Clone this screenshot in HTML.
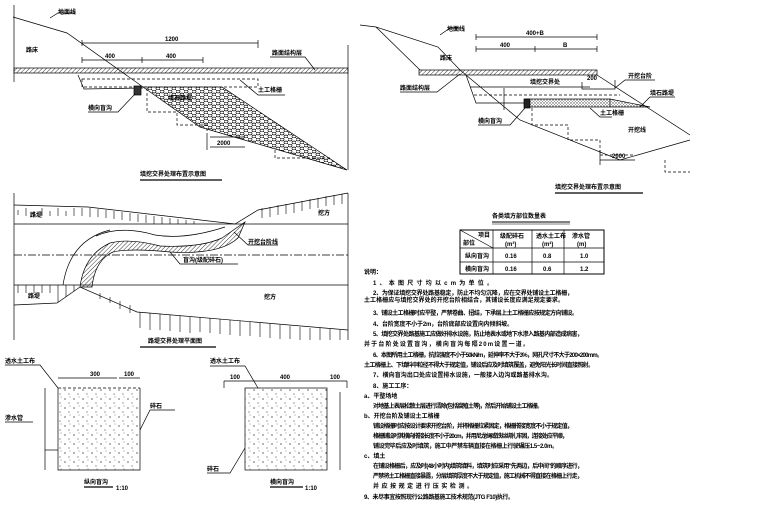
<!DOCTYPE html>
<html><head><meta charset="utf-8"><style>
html,body{margin:0;padding:0;background:#fff;}
svg{display:block;}
text{font-family:"Liberation Sans","Noto Sans CJK SC",sans-serif;fill:#000;}
.t{font-size:6px;font-weight:bold;}
.n{font-size:6px;}
</style></head><body>
<svg width="760" height="515" viewBox="0 0 760 515" xmlns="http://www.w3.org/2000/svg">
<defs>
<pattern id="h" width="3" height="3" patternUnits="userSpaceOnUse" patternTransform="rotate(45)"><line x1="0" y1="0" x2="0" y2="3" stroke="#000" stroke-width="0.8"/></pattern>
<pattern id="d" width="9" height="9" patternUnits="userSpaceOnUse"><circle cx="2" cy="3" r="0.6"/><circle cx="6" cy="7" r="0.5"/><circle cx="7" cy="1" r="0.4"/></pattern>
<pattern id="r" width="8" height="6" patternUnits="userSpaceOnUse"><rect width="8" height="6" fill="#fff"/><ellipse cx="2" cy="1.5" rx="2" ry="1.4" fill="none" stroke="#000" stroke-width="0.7"/><ellipse cx="6" cy="4.5" rx="2" ry="1.4" fill="none" stroke="#000" stroke-width="0.7"/></pattern>
<pattern id="g" width="3" height="3" patternUnits="userSpaceOnUse"><rect width="3" height="3" fill="#fff"/><circle cx="1" cy="1" r="0.7" fill="#444"/><circle cx="2.5" cy="2.4" r="0.5" fill="#666"/></pattern>
</defs>
<g stroke="#000" stroke-width="0.7" fill="none">
<line x1="14" y1="5" x2="14" y2="82"/><line x1="348" y1="45" x2="348" y2="170"/>
<polyline points="13,17 67,33 143,87"/>
<polyline points="50,18 58,13 75,13"/>
<line x1="82" y1="43" x2="258" y2="43"/><line x1="82" y1="40" x2="82" y2="46"/><line x1="258" y1="40" x2="258" y2="48"/>
<line x1="82" y1="60" x2="203" y2="60"/><line x1="82" y1="57" x2="82" y2="63"/><line x1="142" y1="57" x2="142" y2="63"/><line x1="203" y1="57" x2="203" y2="63"/>
<rect x="14" y="68" width="334" height="5" fill="url(#h)"/>
<polyline points="270,57 305,57 315,70"/>
<polyline points="78,75 84,89 143,88"/>
<rect x="82" y="79" width="176" height="8" stroke-dasharray="3,2"/>
<polygon points="143,87 222,87 347,170 200,127" fill="url(#r)"/>
<rect x="134" y="86" width="7" height="9" fill="#333"/>
<polyline points="88,112 118,112 135,94"/>
<polyline points="147,88 147,112 177,112 177,125 207,125 207,135" stroke-dasharray="3,2"/>
<polyline points="275,150 275,158 330,158" stroke-dasharray="3,2"/>
<polyline points="240,80 258,95 285,95"/>
<line x1="210" y1="137" x2="245" y2="137"/><line x1="210" y1="147" x2="245" y2="147"/><line x1="207" y1="135" x2="207" y2="150"/>
<line x1="140" y1="180" x2="222" y2="180" stroke-width="1.2"/>
<line x1="14" y1="193" x2="14" y2="340"/><line x1="348" y1="193" x2="348" y2="340"/>
<polyline points="14,205 88,207 235,224 258,210 348,193"/>
<line x1="14" y1="224" x2="348" y2="224"/>
<line x1="14" y1="255" x2="348" y2="255" stroke-dasharray="8,2,2,2"/>
<line x1="14" y1="285" x2="348" y2="285"/>
<polyline points="14,305 57,303 80,287 137,312 348,330"/>
<path d="M96,236 Q120,225 155,235 Q185,240 225,227" />
<path d="M63,285 Q70,240 110,230" />
<path d="M80,287 Q84,255 110,243 Q130,238 160,246 Q200,248 222,238 L245,222 L238,238 Q220,255 170,252 Q130,248 113,252 Q95,260 92,287 Z" fill="url(#h)"/>
<polyline points="170,252 180,264 238,264"/>
<polyline points="234,232 248,245 278,245"/>
<line x1="140" y1="347" x2="216" y2="347" stroke-width="1.2"/>
</g>
<g stroke="#000" stroke-width="0.6">
<path d="M18,215v-5M26,216v-8M34,216v-5M42,216v-8M50,216v-5M58,216v-8M66,216v-5M74,216v-8M82,216v-8M90,217v-9M98,217v-8M106,218v-8M114,219v-8M122,220v-8M130,221v-8M138,222v-8M146,223v-8M154,224v-8M162,224v-7M170,224v-6M178,224v-5M186,224v-4M194,224v-3M262,208v10M270,207v10M278,205v10M286,204v10M294,203v10M302,201v10M310,199v10M318,198v10M326,196v10M334,195v10M342,194v10"/>
<path d="M18,285v8M26,285v8M34,285v8M42,285v8M50,285v8M58,285v17M66,285v12M74,285v6M100,293v6M110,297v6M120,301v8M130,305v8M140,312v16M150,313v17M160,314v16M170,315v16M180,316v16M190,317v16M200,317v15M210,318v15M220,319v15M230,320v15M240,321v15M250,322v14M260,323v14M270,324v14M280,325v14M290,326v13M300,327v13M310,328v12M320,328v12M330,329v11M340,330v10"/>
</g>
<g stroke="#000" stroke-width="0.7" fill="none">
<rect x="58" y="388" width="82" height="82" fill="url(#d)" stroke="none"/>
<line x1="58" y1="388" x2="140" y2="388" stroke-dasharray="3,2"/>
<polyline points="58,388 58,470 140,470 140,388"/>
<line x1="45" y1="388" x2="45" y2="470"/><line x1="45" y1="450" x2="58" y2="450"/>
<line x1="58" y1="378" x2="117" y2="378"/><line x1="119" y1="378" x2="140" y2="378"/>
<polyline points="5,365 40,365 58,388"/>
<polyline points="175,410 150,410 140,430"/>
<line x1="5" y1="422" x2="33" y2="422"/>
<line x1="84" y1="487" x2="113" y2="487" stroke-width="1.2"/>
<rect x="245" y="388" width="82" height="82" fill="url(#d)"/>
<line x1="224" y1="381" x2="347" y2="381"/>
<line x1="224" y1="381" x2="224" y2="388"/><line x1="347" y1="381" x2="347" y2="388"/>
<line x1="340" y1="392" x2="340" y2="470"/>
<polyline points="210,366 245,366 258,388"/>
<polyline points="207,473 230,473 245,448"/>
<line x1="270" y1="487" x2="303" y2="487" stroke-width="1.2"/>
</g>
<g stroke="#000" stroke-width="0.7" fill="none">
<polyline points="360,25 376,27 438,47 460,70 520,120 620,160 690,140"/>
<polyline points="376,27 420,70"/>
<polyline points="597,75 690,135"/>
<polyline points="440,35 450,28 460,28"/>
<line x1="476" y1="37" x2="597" y2="37"/><line x1="476" y1="34" x2="476" y2="40"/><line x1="597" y1="34" x2="597" y2="40"/>
<line x1="476" y1="49" x2="597" y2="49"/><line x1="476" y1="46" x2="476" y2="52"/><line x1="535" y1="46" x2="535" y2="52"/><line x1="597" y1="46" x2="597" y2="52"/>
<rect x="419" y="70" width="178" height="5" fill="url(#h)"/>
<polyline points="400,92 437,92 460,74"/>
<polyline points="466,75 476,103 525,103"/>
<line x1="470" y1="87" x2="590" y2="87"/>
<line x1="474" y1="95" x2="620" y2="95" stroke-dasharray="3,2"/>
<rect x="525" y="99" width="85" height="8" fill="url(#g)"/>
<polygon points="610,99 650,107 610,107" fill="url(#g)"/>
<rect x="524" y="99" width="6" height="9" fill="#222"/>
<line x1="504" y1="88" x2="504" y2="110"/>
<polyline points="478,125 510,125 525,108"/>
<polyline points="532,108 532,125 568,125 568,140 600,140 600,155 635,155" stroke-dasharray="3,2"/>
<polyline points="665,160 665,172 690,172" stroke-dasharray="3,2"/>
<polyline points="582,82 582,89 615,89 615,80"/>
<polyline points="615,88 625,80 655,80"/>
<polyline points="640,107 650,97 675,97"/>
<polyline points="590,108 600,117 612,117"/>
<line x1="600" y1="160" x2="635" y2="160"/><line x1="600" y1="150" x2="600" y2="165"/>
<line x1="555" y1="193" x2="643" y2="193" stroke-width="1.2"/>
<line x1="492" y1="222" x2="570" y2="222" stroke-width="1"/>
<line x1="492" y1="224" x2="570" y2="224" stroke-width="0.5"/>
<rect x="460" y="230" width="144" height="44" stroke-width="1"/>
<line x1="460" y1="248" x2="604" y2="248"/><line x1="460" y1="262" x2="604" y2="262"/>
<line x1="493" y1="230" x2="493" y2="274"/><line x1="532" y1="230" x2="532" y2="274"/><line x1="564" y1="230" x2="564" y2="274"/>
<line x1="460" y1="230" x2="493" y2="248"/>
</g>
<g class="t">
<text x="58" y="14">地面线</text>
<text x="165" y="41" class="n">1200</text>
<text x="105" y="58" class="n">400</text><text x="166" y="58" class="n">400</text>
<text x="26" y="52">路床</text>
<text x="272" y="55">路面结构层</text>
<text x="168" y="100">填石路堤</text>
<text x="258" y="92">土工格栅</text>
<text x="88" y="110">横向盲沟</text>
<text x="217" y="145" class="n">2000</text>
<text x="140" y="176">填挖交界处理布置示意图</text>
<text x="30" y="217">路堤</text><text x="318" y="215">挖方</text>
<text x="248" y="244">开挖台阶线</text>
<text x="183" y="262">盲沟(级配碎石)</text>
<text x="28" y="298">路堤</text><text x="264" y="299">挖方</text>
<text x="148" y="343">路堤交界处理平面图</text>
<text x="5" y="363">透水土工布</text>
<text x="90" y="376" class="n">300</text><text x="124" y="376" class="n">100</text>
<text x="150" y="408">碎石</text>
<text x="5" y="420">渗水管</text>
<text x="84" y="484">纵向盲沟</text><text x="116" y="490" class="n">1:10</text>
<text x="210" y="363">透水土工布</text>
<text x="230" y="379" class="n">100</text><text x="280" y="379" class="n">400</text><text x="330" y="379" class="n">100</text>
<text x="207" y="471">碎石</text>
<text x="270" y="484">横向盲沟</text><text x="305" y="490" class="n">1:10</text>
<text x="447" y="31">地面线</text>
<text x="526" y="35" class="n">400+B</text>
<text x="500" y="47" class="n">400</text><text x="563" y="47" class="n">B</text>
<text x="440" y="60">路床</text>
<text x="400" y="90">路面结构层</text>
<text x="530" y="84">填挖交界处</text>
<text x="587" y="80" class="n">200</text>
<text x="628" y="78">开挖台阶</text>
<text x="650" y="95">填石路堤</text>
<text x="600" y="115">土工格栅</text>
<text x="478" y="123">横向盲沟</text>
<text x="628" y="132">开挖线</text>
<text x="612" y="158" class="n">2000</text>
<text x="555" y="189">填挖交界处理布置示意图</text>
<text x="492" y="218">各类填方部位数量表</text>
<text x="478" y="237">项目</text><text x="463" y="245">部位</text>
<text x="500" y="238">级配碎石</text><text x="505" y="246">(m³)</text>
<text x="536" y="238">透水土工布</text><text x="542" y="246">(m²)</text>
<text x="572" y="238">渗水管</text><text x="577" y="246">(m)</text>
<text x="465" y="258">纵向盲沟</text><text x="505" y="258" class="n">0.16</text><text x="543" y="258" class="n">0.8</text><text x="580" y="258" class="n">1.0</text>
<text x="465" y="271">横向盲沟</text><text x="505" y="271" class="n">0.16</text><text x="543" y="271" class="n">0.6</text><text x="580" y="271" class="n">1.2</text>
<text x="364" y="274">说明：</text>
<text x="373" y="285" textLength="120">1、本图尺寸均以cm为单位。</text>
<text x="373" y="295" textLength="200">2、为保证填挖交界处路基稳定，防止不均匀沉降，应在交界处铺设土工格栅，</text>
<text x="364" y="302" textLength="200">土工格栅应与填挖交界处的开挖台阶相结合，其铺设长度应满足规定要求。</text>
<text x="373" y="315" textLength="205">3、铺设土工格栅时应平整，严禁卷曲、扭结，下承层上土工格栅应按规定方向铺设。</text>
<text x="373" y="326" textLength="140">4、台阶宽度不小于2m，台阶底部应设置向内倾斜坡。</text>
<text x="373" y="336" textLength="210">5、填挖交界处路基施工应做好排水设施，防止地表水或地下水渗入路基内部造成病害，</text>
<text x="364" y="346" textLength="165">并于台阶处设置盲沟，横向盲沟每隔20m设置一道。</text>
<text x="373" y="357" textLength="230">6、本图所用土工格栅，抗拉强度不小于50kN/m，延伸率不大于3%，网孔尺寸不大于200×200mm。</text>
<text x="364" y="367" textLength="230">土工格栅上、下填料中粒径不得大于规定值，铺设后应及时填筑覆盖，避免阳光长时间直接照射。</text>
<text x="373" y="377" textLength="180">7、横向盲沟出口处应设置排水设施，一般接入边沟或路基排水沟。</text>
<text x="373" y="388">8、施工工序：</text>
<text x="364" y="398">a、平整场地</text>
<text x="373" y="408" textLength="170">对地基上表层松散土层进行清除(包括腐殖土等)，然后开始铺设土工格栅。</text>
<text x="364" y="418">b、开挖台阶及铺设土工格栅</text>
<text x="373" y="428" textLength="200">铺设格栅时应按设计要求开挖台阶，并将格栅拉紧固定，格栅搭接宽度不小于规定值，</text>
<text x="373" y="438" textLength="195">格栅铺设时其横向搭接长度不小于20cm，并用尼龙绳或铁丝绑扎牢固，连接处应平顺，</text>
<text x="373" y="448" textLength="185">铺设完毕后应及时填筑，施工中严禁车辆直接在格栅上行驶碾压1.5~2.0m。</text>
<text x="364" y="458">c、填土</text>
<text x="373" y="468" textLength="210">在铺设格栅后，应及时(48小时内)填筑填料，填筑时应采用"先两边，后中间"的顺序进行，</text>
<text x="373" y="478" textLength="210">严禁将土工格栅直接暴露，分层填筑厚度不大于规定值，施工机械不得直接在格栅上行走，</text>
<text x="373" y="488" textLength="100">并应按规定进行压实检测。</text>
<text x="364" y="499" textLength="150">9、未尽事宜按照现行公路路基施工技术规范(JTG F10)执行。</text>
</g>
</svg>
</body></html>
